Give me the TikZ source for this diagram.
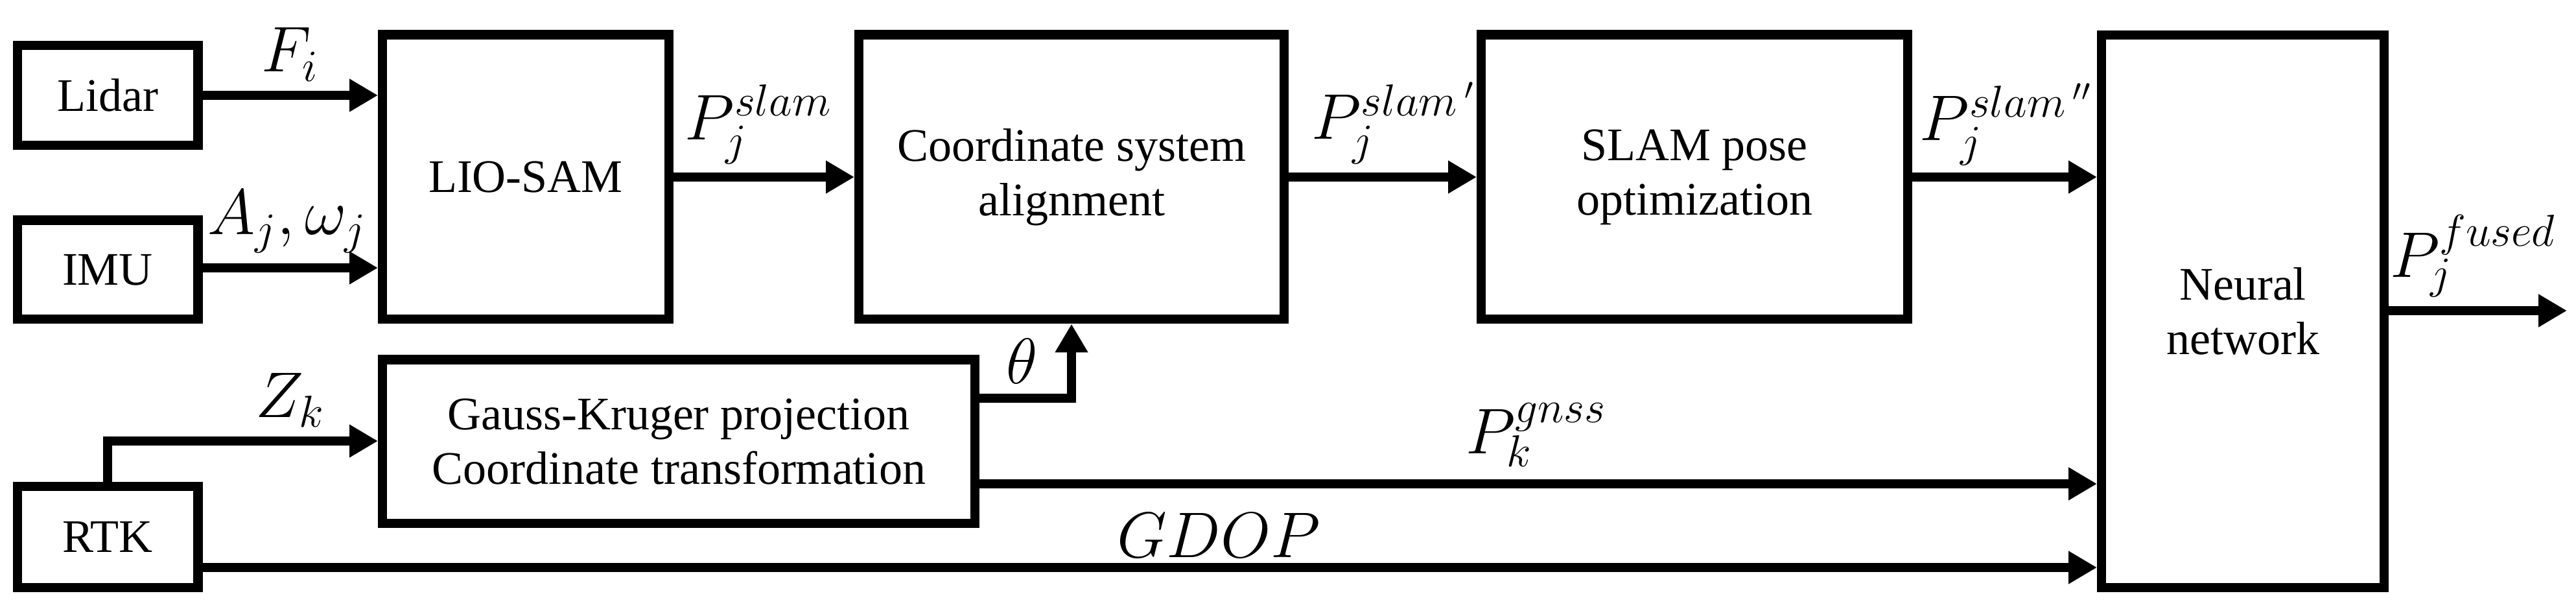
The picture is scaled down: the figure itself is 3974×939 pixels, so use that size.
\documentclass[tikz,border=0pt]{standalone}
\usepackage{fontspec}
\setmainfont{Liberation Serif}
\usetikzlibrary{arrows.meta}
\begin{document}
\begin{tikzpicture}[x=0.25pt,y=-0.25pt,
  box/.style={draw,line width=3.6pt,inner sep=0pt,align=center,font=\fontsize{18}{21}\selectfont},
  conn/.style={line width=3.3pt,-{Triangle[length=11pt,width=12pt]}},
  lab/.style={font=\fontsize{24}{26}\selectfont}]
\useasboundingbox (0,0) rectangle (3974,939);
\newcommand{\bx}[6]{\node[box,minimum width=#4*0.25pt-3.6pt,minimum height=#5*0.25pt-3.6pt] (#1) at (#2,#3) {#6};}
\bx{lidar}{166}{147}{293}{168}{Lidar}
\bx{imu}{166}{416}{293}{167}{IMU}
\bx{rtk}{166}{828}{293}{170}{RTK}
\bx{lio}{811}{273}{456}{453}{LIO-SAM}
\bx{ca}{1653}{273}{670}{453}{Coordinate system\\alignment}
\bx{gk}{1047}{681}{928}{267}{Gauss-Kruger projection\\Coordinate transformation}
\bx{slam}{2614}{273}{672}{453}{SLAM pose\\optimization}
\bx{nn}{3460}{480}{450}{866}{Neural\\network}
\coordinate (out) at (3960,479);
\draw[conn] (lidar.east |- 0,147) -- (lio.west |- 0,147);
\draw[conn] (imu.east |- 0,413) -- (lio.west |- 0,413);
\draw[conn] (lio) -- (ca);
\draw[conn] (ca) -- (slam);
\draw[conn] (slam.east) -- (nn.west |- slam.east);
\draw[conn] (nn.east |- out) -- (out);
\draw[conn] (gk.east |- 0,614) -| (ca.south);
\draw[conn] (rtk.north) |- (gk.west |- 0,680);
\draw[conn] (gk.east |- 0,746) -- (nn.west |- 0,746);
\draw[conn] (rtk.east |- 0,875) -- (nn.west |- 0,875);
\node[lab] (lf) at (448,84) {$F_i$};
\node[lab] (la) at (443,342) {$A_j,\omega_j$};
\node[lab] (lp1) at (1170,192) {$P_j^{slam}$};
\node[lab] (lp2) at (2150,190) {$P_j^{slam\,'}$};
\node[lab] (lp3) at (3095,192) {$P_j^{slam\,''}$};
\node[lab] (lp4) at (3815,395) {$P_j^{fused}$};
\node[lab] (lp5) at (2370,671) {$P_k^{gnss}$};
\node[lab] (lz) at (448,617) {$Z_k$};
\node[lab] (lt) at (1577,557) {$\theta$};
\node[lab,font=\fontsize{26}{28}\selectfont] (lg) at (1880,826) {$GDOP$};
\end{tikzpicture}
\end{document}
